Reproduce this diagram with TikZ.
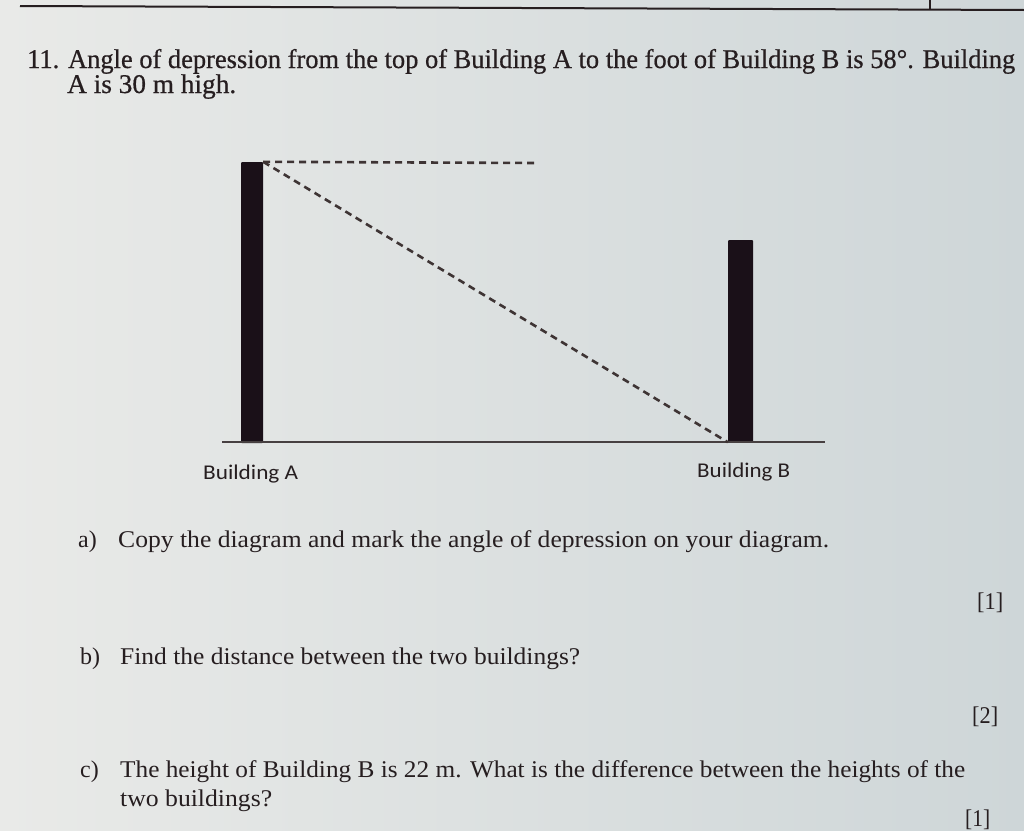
\documentclass[tikz,border=0pt]{standalone}
\usepackage{fontspec}
\setmainfont{Liberation Serif}
\newfontfamily\titlefont[FakeBold=0.6]{Liberation Serif}
\newfontfamily\labelfont{Carlito}
\usepackage{graphicx}
\newlength\fitlen
\newcommand\fitwidth[2]{\settowidth\fitlen{#2}\scalebox{\fpeval{#1pt/\fitlen}}[1]{#2}}
\definecolor{ink}{RGB}{38,30,32}
\definecolor{bld}{RGB}{26,16,24}
\definecolor{dash}{RGB}{62,52,52}
\definecolor{paperL}{RGB}{233,234,232}
\definecolor{paperR}{RGB}{206,214,216}
\begin{document}
\begin{tikzpicture}[x=1pt,y=-1pt,
  txt/.style={anchor=base west,inner sep=0pt,text=ink},
  qtxt/.style={txt,font=\fontsize{24}{28}\selectfont},
  ttl/.style={txt,font=\titlefont\fontsize{27}{31}\selectfont},
  lbl/.style={txt,font=\labelfont\fontsize{21}{25}\selectfont},
  building/.style={draw=none,fill=bld,inner sep=0pt,rounded corners=1pt},
  dashline/.style={draw=dash,line width=2.6pt,dash pattern=on 7pt off 5pt},
  ground/.style={draw=ink!85,line width=2pt}]
\useasboundingbox (0,0) rectangle (1024,830);
\shade[left color=paperL,right color=paperR] (0,0) rectangle (1024,830);
% top rule
\draw[ink,line width=2pt] (20,6) -- (1024,10);
\draw[ink,line width=1.5pt] (930,0) -- (930,10);
% heading
\node[ttl] (t1) at (27,68) {\fitwidth{988}{11. Angle of depression from the top of Building A to the foot of Building B is 58°. Building}};
\node[ttl] (t2) at (67,93) {\fitwidth{169}{A is 30 m high.}};
% diagram
\node[building,minimum width=22pt,minimum height=281pt] (A) at (252,302.5) {};
\node[building,minimum width=25pt,minimum height=202pt] (B) at (740.5,341) {};
\coordinate (G1) at (222,442);
\coordinate (G2) at (825,442);
\coordinate (H) at (537,163);
\draw[ground] (G1) -- (G2);
\draw[dashline] (A.north east) -- (H);
\draw[dashline] (A.north east) -- (B.south west);
\node[lbl] (la) at (203,479) {\fitwidth{95}{Building A}};
\node[lbl] (lb) at (697,477) {\fitwidth{93}{Building B}};
% questions
\node[qtxt] (qa) at (78,547) {a)};
\node[qtxt] (qat) at (118,547) {\fitwidth{711}{Copy the diagram and mark the angle of depression on your diagram.}};
\node[qtxt] (m1) at (977,609) {\fitwidth{26}{[1]}};
\node[qtxt] (qb) at (80,664) {b)};
\node[qtxt] (qbt) at (120,664) {\fitwidth{460}{Find the distance between the two buildings?}};
\node[qtxt] (m2) at (972,723) {\fitwidth{26}{[2]}};
\node[qtxt] (qc) at (80,777) {c)};
\node[qtxt] (qct) at (120,777) {\fitwidth{845}{The height of Building B is 22 m. What is the difference between the heights of the}};
\node[qtxt] (qct2) at (120,806) {\fitwidth{152}{two buildings?}};
\node[qtxt] (m3) at (965,826) {\fitwidth{25}{[1]}};
\end{tikzpicture}
\end{document}
